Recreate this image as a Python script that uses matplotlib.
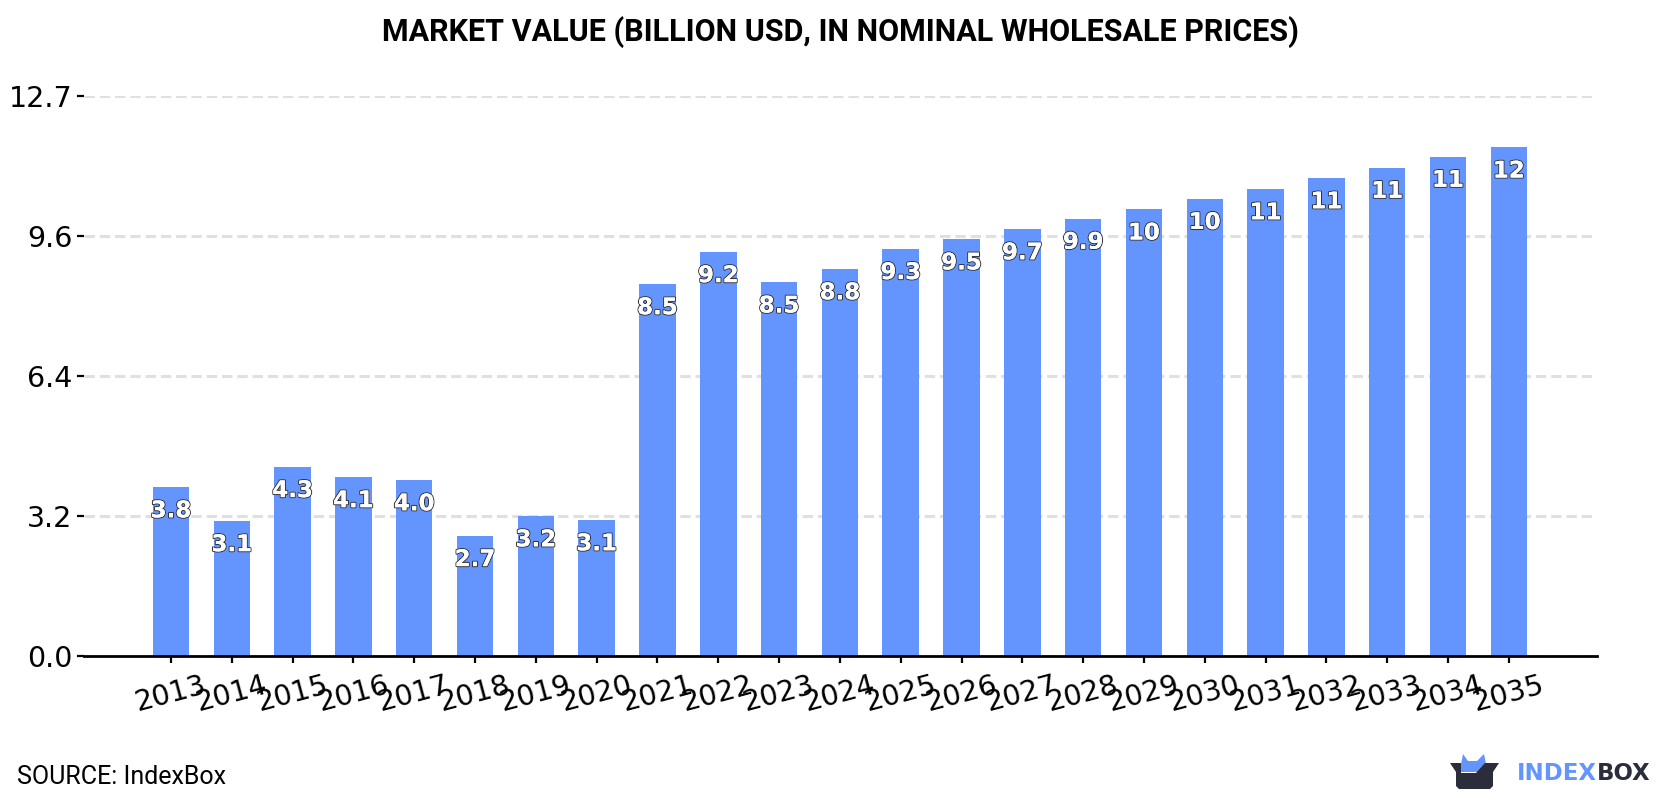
import matplotlib
matplotlib.use('Agg')
import matplotlib.pyplot as plt
import matplotlib.patheffects as pe
from matplotlib.patches import Polygon

years = list(range(2013, 2036))
values = [3.84, 3.07, 4.30, 4.07, 4.00, 2.73, 3.18, 3.09, 8.46, 9.19, 8.50, 8.80,
          9.26, 9.48, 9.71, 9.95, 10.16, 10.40, 10.62, 10.87, 11.11, 11.36, 11.57]
yticks = [0.0, 3.185, 6.37, 9.555, 12.74]

BLUE = '#6495ff'
DARK = '#2b2d3a'


def fmt(v):
    return f'{v:.1f}' if v < 10 else f'{v:.0f}'


def draw_logo(fig):
    # overlay in pixel units for the logo
    ov = fig.add_axes([0, 0, 1, 1])
    ov.set_xlim(0, 1680)
    ov.set_ylim(800, 0)
    ov.axis('off')
    ov.add_patch(Polygon([(1461, 764), (1463, 754), (1468, 761), (1477, 761), (1484, 754),
                          (1486, 764), (1486, 772), (1461, 772)], color=BLUE, lw=0))
    ov.add_patch(Polygon([(1450, 763), (1461, 763), (1461, 773), (1476, 773), (1485, 763),
                          (1499, 763), (1493, 772), (1493, 786), (1490, 789), (1459, 789),
                          (1456, 786), (1456, 772)], color=DARK, lw=0))
    ov.text(1517, 773, 'INDEX', color=BLUE, fontsize=16.5, fontweight='bold',
            family='DejaVu Sans', va='center', ha='left')
    ov.text(1597, 773, 'BOX', color=DARK, fontsize=16.5, fontweight='bold',
            family='DejaVu Sans', va='center', ha='left')


def main():
    fig = plt.figure(figsize=(16.8, 8), dpi=100)
    ax = fig.add_axes([84 / 1680, 1 - 656 / 800, (1597 - 84) / 1680, (656 - 96) / 800])

    ax.set_axisbelow(True)
    ax.grid(axis='y', color='#e0e0e0', lw=2.2, ls=(0, (3.4, 1.6)))
    ax.bar(years, values, width=0.6, color=BLUE)

    for x, v in zip(years, values):
        ax.annotate(fmt(v), (x, v), xytext=(0, -17), textcoords='offset points',
                    ha='center', va='center', color='white', fontsize=16.5, fontweight='bold',
                    path_effects=[pe.withStroke(linewidth=1.5, foreground='#333333'),
                                  pe.Normal()])

    ax.set_xlim(2013 - 1.43, 2013 + 23.45)
    ax.set_ylim(0, 12.74)
    ax.set_yticks(yticks)
    ax.set_yticklabels([f'{t:.1f}' for t in yticks])
    ax.set_xticks(years)
    ax.set_xticklabels(years, rotation=15)
    ax.tick_params(axis='both', labelsize=20.5, length=5, width=1.6, color='black')
    ax.tick_params(axis='x', pad=5.5)

    for s in ['top', 'right', 'left']:
        ax.spines[s].set_visible(False)
    ax.spines['bottom'].set_linewidth(2)

    fig.text(0.5, 1 - 32 / 800, 'MARKET VALUE (BILLION USD, IN NOMINAL WHOLESALE PRICES)',
             ha='center', va='center', fontsize=22, fontweight='bold', family='Roboto')
    fig.text(17 / 1680, 1 - 777 / 800, 'SOURCE: IndexBox', ha='left', va='center',
             fontsize=18, family='Roboto')
    draw_logo(fig)

    fig.savefig('out.png', dpi=100)


if __name__ == '__main__':
    main()
